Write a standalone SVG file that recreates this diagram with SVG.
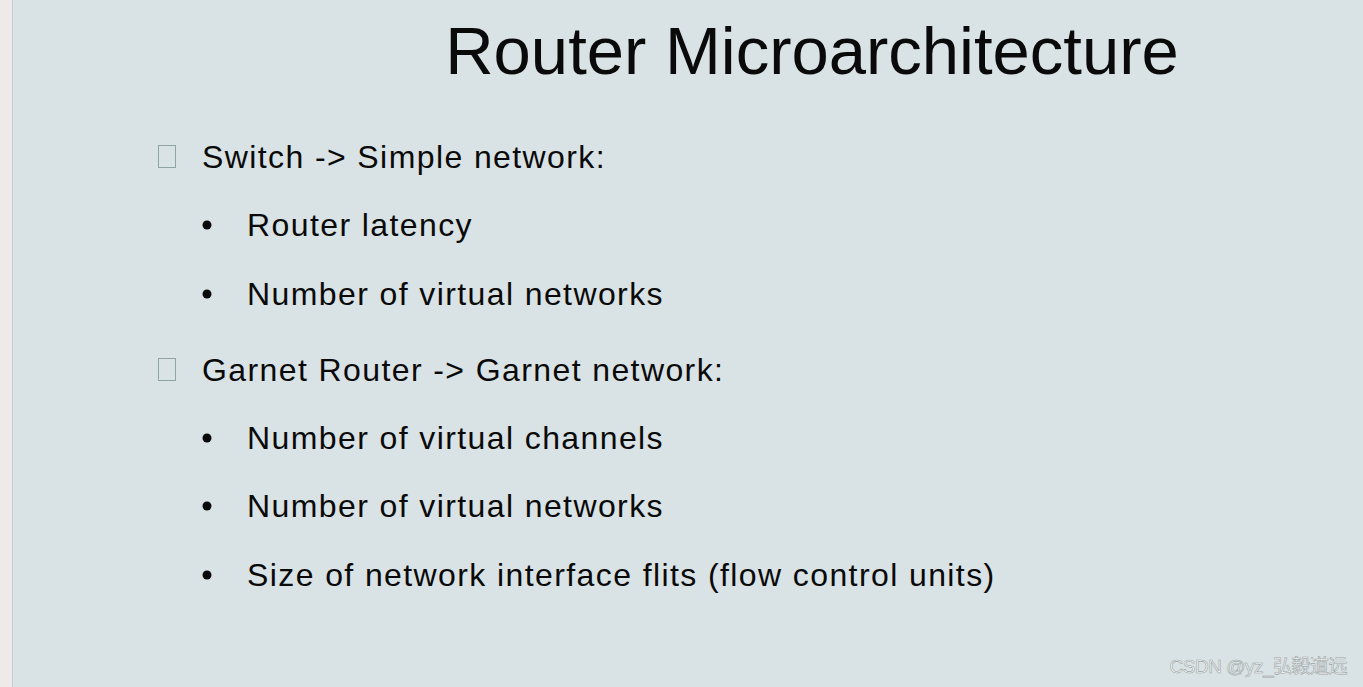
<svg xmlns="http://www.w3.org/2000/svg" width="1363" height="687" viewBox="0 0 1363 687">
<style>
.b{font-family:"Liberation Sans",Arial,sans-serif;font-size:32px;fill:#0a0a0a;letter-spacing:1.4px}
.box{fill:none;stroke:#8fa5a5;stroke-width:1}
</style>
<rect width="1363" height="687" fill="#d9e2e4"/>
<rect width="12" height="687" fill="#eeeaea"/>
<line x1="12.5" y1="0" x2="12.5" y2="687" stroke="#c8cccc"/>
<text x="812" y="74" text-anchor="middle" font-family="Liberation Sans,Arial,sans-serif" font-size="67" fill="#0a0a0a">Router Microarchitecture</text>
<g id="item1">
<rect class="box" x="158.5" y="145.5" width="17" height="22"/>
<text class="b" x="202" y="168">Switch -&gt; Simple network:</text>
</g>
<g id="item1a"><circle cx="207" cy="225" r="4.5" fill="#0a0a0a"/><text class="b" x="247" y="236">Router latency</text></g>
<g id="item1b"><circle cx="207" cy="294" r="4.5" fill="#0a0a0a"/><text class="b" x="247" y="305">Number of virtual networks</text></g>
<g id="item2">
<rect class="box" x="158.5" y="358.5" width="17" height="22"/>
<text class="b" x="202" y="381">Garnet Router -&gt; Garnet network:</text>
</g>
<g id="item2a"><circle cx="207" cy="438" r="4.5" fill="#0a0a0a"/><text class="b" x="247" y="449">Number of virtual channels</text></g>
<g id="item2b"><circle cx="207" cy="506" r="4.5" fill="#0a0a0a"/><text class="b" x="247" y="517">Number of virtual networks</text></g>
<g id="item2c"><circle cx="207" cy="575" r="4.5" fill="#0a0a0a"/><text class="b" x="247" y="586">Size of network interface flits (flow control units)</text></g>
<text x="1347" y="673" text-anchor="end" font-family="Liberation Sans,'Noto Sans CJK SC',sans-serif" font-size="19" fill="#f4f6f6" stroke="#9aa4a4" stroke-width="0.6" letter-spacing="-0.5">CSDN @yz_弘毅道远</text>
</svg>
